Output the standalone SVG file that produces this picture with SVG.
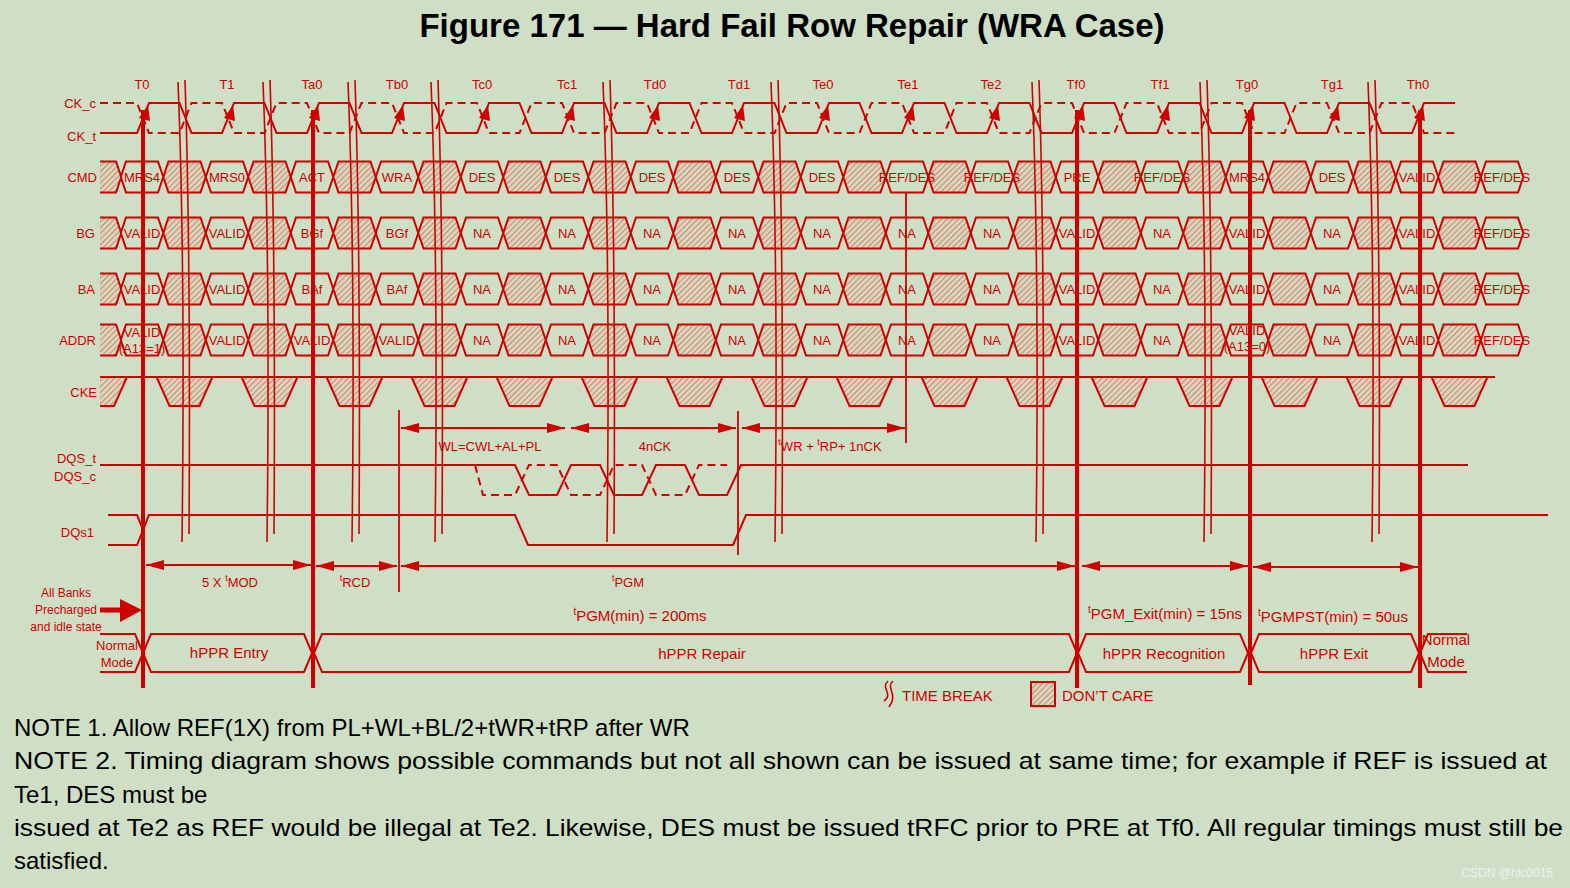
<svg xmlns="http://www.w3.org/2000/svg" xmlns:xlink="http://www.w3.org/1999/xlink" width="1570" height="888" viewBox="0 0 1570 888">
<style>
.r{fill:none;stroke:#d00000;stroke-width:2}
.t{font-family:"Liberation Sans",Arial,sans-serif;font-size:13px;fill:#d00000;text-anchor:middle}
.l{font-family:"Liberation Sans",Arial,sans-serif;font-size:13px;fill:#d00000;text-anchor:end}
.s{font-family:"Liberation Sans",Arial,sans-serif;font-size:15px;fill:#d00000;text-anchor:middle}
.n{font-family:"Liberation Sans",Arial,sans-serif;font-size:24px;fill:#000}
.thick{stroke:#d00000;stroke-width:4}
.thin{stroke:#d00000;stroke-width:1.8}
.tb{fill:none;stroke:#d00000;stroke-width:1.6}
.dash{fill:none;stroke:#d00000;stroke-width:2;stroke-dasharray:8,5}
.arr{stroke:#d00000;stroke-width:2;marker-start:url(#ma);marker-end:url(#ma)}
</style>
<defs>
<pattern id="hatch" width="4" height="4" patternUnits="userSpaceOnUse" patternTransform="rotate(45)">
<rect width="4" height="4" fill="#d6d8bd"/><line x1="0" y1="0" x2="0" y2="4" stroke="#d00000" stroke-width="0.8"/>
</pattern>
<marker id="ma" viewBox="0 0 18 10" refX="18" refY="5" markerWidth="18" markerHeight="10" markerUnits="userSpaceOnUse" orient="auto-start-reverse"><path d="M0,0 L18,5 L0,10 Z" fill="#d00000"/></marker>
<path id="hv" d="M-21.25,0 L-16,-15.5 L16,-15.5 L21.25,0 L16,15.5 L-16,15.5 Z" fill="none" stroke="#d00000" stroke-width="2"/>
<path id="hh" d="M-21.25,0 L-16,-15.5 L16,-15.5 L21.25,0 L16,15.5 L-16,15.5 Z" fill="url(#hatch)" stroke="#d00000" stroke-width="2"/>
<path id="hl" d="M0,-15.5 L16,-15.5 L21.25,0 L16,15.5 L0,15.5" fill="url(#hatch)" stroke="#d00000" stroke-width="2"/>
<path id="ah" d="M0,0 L-9,13 L2,16 Z" fill="#d00000"/>
<g id="tbk"><path class="tb" d="M0,0 C6,150 6,300 4,460"/><path class="tb" d="M7,-2 C12,150 12,300 11,452"/></g>
<path id="ck" d="M-28,0 L28,0 L15,29 L-15,29 Z" fill="url(#hatch)" stroke="#d00000" stroke-width="2"/>
<g id="row">
<use href="#hl" x="100"/>
<use href="#hv" x="142"/><use href="#hh" x="184.5"/><use href="#hv" x="227"/><use href="#hh" x="269.5"/>
<use href="#hv" x="312"/><use href="#hh" x="354.5"/><use href="#hv" x="397"/><use href="#hh" x="439.5"/>
<use href="#hv" x="482"/><use href="#hh" x="524.5"/><use href="#hv" x="567"/><use href="#hh" x="609.5"/>
<use href="#hv" x="652"/><use href="#hh" x="694.5"/><use href="#hv" x="737"/><use href="#hh" x="779.5"/>
<use href="#hv" x="822"/><use href="#hh" x="864.5"/><use href="#hv" x="907"/><use href="#hh" x="949.5"/>
<use href="#hv" x="992"/><use href="#hh" x="1034.5"/><use href="#hv" x="1077"/><use href="#hh" x="1119.5"/>
<use href="#hv" x="1162"/><use href="#hh" x="1204.5"/><use href="#hv" x="1247"/><use href="#hh" x="1289.5"/>
<use href="#hv" x="1332"/><use href="#hh" x="1374.5"/><use href="#hv" x="1417"/><use href="#hh" x="1459.5"/>
<use href="#hv" x="1502"/>
</g>
</defs>
<rect width="1570" height="888" fill="#cfdfc5"/>
<text x="792" y="37" font-family="'Liberation Sans',Arial,sans-serif" font-size="33" font-weight="bold" text-anchor="middle" fill="#000">Figure 171 — Hard Fail Row Repair (WRA Case)</text>

<g id="labels">
<text class="l" x="96" y="108">CK_c</text><text class="l" x="96" y="141">CK_t</text>
<text class="l" x="97" y="182">CMD</text><text class="l" x="95" y="238">BG</text>
<text class="l" x="95" y="294">BA</text><text class="l" x="96" y="345">ADDR</text>
<text class="l" x="97" y="397">CKE</text><text class="l" x="96" y="463">DQS_t</text>
<text class="l" x="96" y="481">DQS_c</text><text class="l" x="94" y="537">DQs1</text>
<g class="t"><text x="142" y="89">T0</text><text x="227" y="89">T1</text><text x="312" y="89">Ta0</text><text x="397" y="89">Tb0</text><text x="482" y="89">Tc0</text><text x="567" y="89">Tc1</text><text x="655" y="89">Td0</text><text x="739" y="89">Td1</text><text x="823" y="89">Te0</text><text x="908" y="89">Te1</text><text x="991" y="89">Te2</text><text x="1076" y="89">Tf0</text><text x="1160" y="89">Tf1</text><text x="1247" y="89">Tg0</text><text x="1332" y="89">Tg1</text><text x="1418" y="89">Th0</text></g>
</g>

<g id="clock">
<path class="r" d="M100,133 H137
l12,-30 h30.5 l12,30 h30.5
l12,-30 h30.5 l12,30 h30.5
l12,-30 h30.5 l12,30 h30.5
l12,-30 h30.5 l12,30 h30.5
l12,-30 h30.5 l12,30 h30.5
l12,-30 h30.5 l12,30 h30.5
l12,-30 h30.5 l12,30 h30.5
l12,-30 h30.5 l12,30 h30.5
l12,-30 h30.5 l12,30 h30.5
l12,-30 h30.5 l12,30 h30.5
l12,-30 h30.5 l12,30 h30.5
l12,-30 h30.5 l12,30 h30.5
l12,-30 h30.5 l12,30 h30.5
l12,-30 h30.5 l12,30 h30.5
l12,-30 h30.5 l12,30 h30.5
l12,-30 H1455"/>
<path class="dash" d="M100,103 H137
l12,30 h30.5 l12,-30 h30.5
l12,30 h30.5 l12,-30 h30.5
l12,30 h30.5 l12,-30 h30.5
l12,30 h30.5 l12,-30 h30.5
l12,30 h30.5 l12,-30 h30.5
l12,30 h30.5 l12,-30 h30.5
l12,30 h30.5 l12,-30 h30.5
l12,30 h30.5 l12,-30 h30.5
l12,30 h30.5 l12,-30 h30.5
l12,30 h30.5 l12,-30 h30.5
l12,30 h30.5 l12,-30 h30.5
l12,30 h30.5 l12,-30 h30.5
l12,30 h30.5 l12,-30 h30.5
l12,30 h30.5 l12,-30 h30.5
l12,30 h30.5 l12,-30 h30.5
l12,30 H1455"/>
<use href="#ah" x="148" y="105"/><use href="#ah" x="233" y="105"/><use href="#ah" x="318" y="105"/><use href="#ah" x="403" y="105"/><use href="#ah" x="488" y="105"/><use href="#ah" x="573" y="105"/><use href="#ah" x="658" y="105"/><use href="#ah" x="743" y="105"/><use href="#ah" x="828" y="105"/><use href="#ah" x="913" y="105"/><use href="#ah" x="998" y="105"/><use href="#ah" x="1083" y="105"/><use href="#ah" x="1168" y="105"/><use href="#ah" x="1253" y="105"/><use href="#ah" x="1338" y="105"/><use href="#ah" x="1423" y="105"/>
</g>

<g id="buses">
<use href="#row" y="177"/><use href="#row" y="233"/><use href="#row" y="289"/><use href="#row" y="340"/>
<g class="t">
<text x="142" y="182">MRS4</text><text x="227" y="182">MRS0</text><text x="312" y="182">ACT</text><text x="397" y="182">WRA</text><text x="482" y="182">DES</text><text x="567" y="182">DES</text><text x="652" y="182">DES</text><text x="737" y="182">DES</text><text x="822" y="182">DES</text><text x="907" y="182">REF/DES</text><text x="992" y="182">REF/DES</text><text x="1077" y="182">PRE</text><text x="1162" y="182">REF/DES</text><text x="1247" y="182">MRS4</text><text x="1332" y="182">DES</text><text x="1417" y="182">VALID</text><text x="1502" y="182">REF/DES</text>
<text x="142" y="238">VALID</text><text x="227" y="238">VALID</text><text x="312" y="238">BGf</text><text x="397" y="238">BGf</text><text x="482" y="238">NA</text><text x="567" y="238">NA</text><text x="652" y="238">NA</text><text x="737" y="238">NA</text><text x="822" y="238">NA</text><text x="907" y="238">NA</text><text x="992" y="238">NA</text><text x="1077" y="238">VALID</text><text x="1162" y="238">NA</text><text x="1247" y="238">VALID</text><text x="1332" y="238">NA</text><text x="1417" y="238">VALID</text><text x="1502" y="238">REF/DES</text>
<text x="142" y="294">VALID</text><text x="227" y="294">VALID</text><text x="312" y="294">BAf</text><text x="397" y="294">BAf</text><text x="482" y="294">NA</text><text x="567" y="294">NA</text><text x="652" y="294">NA</text><text x="737" y="294">NA</text><text x="822" y="294">NA</text><text x="907" y="294">NA</text><text x="992" y="294">NA</text><text x="1077" y="294">VALID</text><text x="1162" y="294">NA</text><text x="1247" y="294">VALID</text><text x="1332" y="294">NA</text><text x="1417" y="294">VALID</text><text x="1502" y="294">REF/DES</text>
<text x="142" y="337">VALID</text><text x="142" y="353">(A13=1)</text><text x="227" y="345">VALID</text><text x="312" y="345">VALID</text><text x="397" y="345">VALID</text><text x="482" y="345">NA</text><text x="567" y="345">NA</text><text x="652" y="345">NA</text><text x="737" y="345">NA</text><text x="822" y="345">NA</text><text x="907" y="345">NA</text><text x="992" y="345">NA</text><text x="1077" y="345">VALID</text><text x="1162" y="345">NA</text><text x="1247" y="335">VALID</text><text x="1247" y="351">(A13=0)</text><text x="1332" y="345">NA</text><text x="1417" y="345">VALID</text><text x="1502" y="345">REF/DES</text>
</g>
</g>

<g id="cke">
<line class="r" x1="100" y1="377" x2="1495" y2="377"/>
<path d="M100,377 H127 L114,406 H100" fill="url(#hatch)" stroke="#d00000" stroke-width="2"/>
<use href="#ck" x="184.5" y="377"/><use href="#ck" x="269.5" y="377"/><use href="#ck" x="354.5" y="377"/><use href="#ck" x="439.5" y="377"/><use href="#ck" x="524.5" y="377"/><use href="#ck" x="609.5" y="377"/><use href="#ck" x="694.5" y="377"/><use href="#ck" x="779.5" y="377"/><use href="#ck" x="864.5" y="377"/><use href="#ck" x="949.5" y="377"/><use href="#ck" x="1034.5" y="377"/><use href="#ck" x="1119.5" y="377"/><use href="#ck" x="1204.5" y="377"/><use href="#ck" x="1289.5" y="377"/><use href="#ck" x="1374.5" y="377"/><use href="#ck" x="1459.5" y="377"/>
</g>

<g id="dq">
<path class="r" d="M100,465 H515 L529,495 H557 L571,465 H600 L614,495 H642 L656,465 H685 L699,495 H727 L741,465 H1468"/>
<path class="dash" d="M475,465 L483,495 H515 L529,465 H557 L571,495 H600 L614,465 H642 L656,495 H685 L699,465 H727"/>
<path class="r" d="M108,515 H137 L143,530 L137,545 H108 M143,530 L149,515 H515 L528,545 H733 L746,515 H1548"/>
</g>

<g id="connectors">
<line class="thick" x1="143" y1="110" x2="143" y2="688"/>
<line class="thick" x1="313" y1="110" x2="313" y2="688"/>
<line class="thick" x1="1077" y1="110" x2="1077" y2="688"/>
<line class="thick" x1="1250" y1="110" x2="1250" y2="685"/>
<line class="thick" x1="1420" y1="110" x2="1420" y2="688"/>
<line class="thin" x1="399" y1="410" x2="399" y2="592"/>
<line class="thin" x1="738" y1="411" x2="738" y2="555"/>
<line class="thin" x1="906" y1="193" x2="906" y2="443"/>
<use href="#tbk" x="178" y="82"/><use href="#tbk" x="263" y="82"/><use href="#tbk" x="348" y="82"/><use href="#tbk" x="431" y="82"/><use href="#tbk" x="603" y="82"/><use href="#tbk" x="771" y="82"/><use href="#tbk" x="1032" y="82"/><use href="#tbk" x="1200" y="82"/><use href="#tbk" x="1368" y="82"/>
<line class="arr" x1="401" y1="428" x2="565" y2="428"/>
<line class="arr" x1="571" y1="428" x2="736" y2="428"/>
<line class="arr" x1="742" y1="428" x2="905" y2="428"/>
<line class="arr" x1="146" y1="565" x2="311" y2="565"/>
<line class="arr" x1="316" y1="566" x2="397" y2="566"/>
<line class="arr" x1="401" y1="566" x2="1075" y2="566"/>
<line class="arr" x1="1082" y1="566" x2="1248" y2="566"/>
<line class="arr" x1="1253" y1="567" x2="1418" y2="567"/>
<line stroke="#d00000" stroke-width="5" x1="100" y1="610" x2="124" y2="610"/>
<path d="M120,599 L142,610 L120,622 Z" fill="#d00000"/>
</g>

<g id="timing-labels" class="t">
<text x="490" y="451">WL=CWL+AL+PL</text>
<text x="655" y="451">4nCK</text>
<text x="830" y="451"><tspan font-size="9" dy="-6">t</tspan><tspan dy="6">WR + </tspan><tspan font-size="9" dy="-6">t</tspan><tspan dy="6">RP+ 1nCK</tspan></text>
<text x="230" y="587">5 X <tspan font-size="9" dy="-6">t</tspan><tspan dy="6">MOD</tspan></text>
<text x="355" y="587"><tspan font-size="9" dy="-6">t</tspan><tspan dy="6">RCD</tspan></text>
<text x="628" y="587"><tspan font-size="9" dy="-6">t</tspan><tspan dy="6">PGM</tspan></text>
<text class="s" x="640" y="621"><tspan font-size="10" dy="-6">t</tspan><tspan dy="6">PGM(min) = 200ms</tspan></text>
<text class="s" x="1165" y="619"><tspan font-size="10" dy="-6">t</tspan><tspan dy="6">PGM_Exit(min) = 15ns</tspan></text>
<text class="s" x="1333" y="622"><tspan font-size="10" dy="-6">t</tspan><tspan dy="6">PGMPST(min) = 50us</tspan></text>
<text x="66" y="597" font-size="12">All Banks</text><text x="66" y="614" font-size="12">Precharged</text><text x="66" y="631" font-size="12">and idle state</text>
</g>

<g id="states">
<path class="r" d="M100,634 H135 L143,653 L135,672 H100"/>
<path class="r" d="M143,653 L151,634 H304 L312,653 L304,672 H151 Z"/>
<path class="r" d="M314,653 L322,634 H1069 L1077,653 L1069,672 H322 Z"/>
<path class="r" d="M1078,653 L1086,634 H1240 L1248,653 L1240,672 H1086 Z"/>
<path class="r" d="M1251,653 L1259,634 H1411 L1419,653 L1411,672 H1259 Z"/>
<path class="r" d="M1420,653 L1428,634 H1467 M1420,653 L1428,672 H1467"/>
<text class="t" x="117" y="650">Normal</text><text class="t" x="117" y="667">Mode</text>
<text class="s" x="229" y="658">hPPR Entry</text>
<text class="s" x="702" y="659">hPPR Repair</text>
<text class="s" x="1164" y="659">hPPR Recognition</text>
<text class="s" x="1334" y="659">hPPR Exit</text>
<text class="s" x="1446" y="645">Normal</text><text class="s" x="1446" y="667">Mode</text>
</g>

<g id="legend">
<path class="tb" d="M888,681 C880,688 894,694 884,701 M893,681 C885,688 899,694 889,707"/>
<text x="902" y="701" font-family="'Liberation Sans',Arial,sans-serif" font-size="15" fill="#d00000">TIME BREAK</text>
<rect x="1031" y="682" width="24" height="24" fill="url(#hatch)" stroke="#d00000" stroke-width="2"/>
<text x="1062" y="701" font-family="'Liberation Sans',Arial,sans-serif" font-size="15" fill="#d00000">DON’T CARE</text>
</g>

<g id="notes">
<text class="n" x="14" y="736">NOTE 1. Allow REF(1X) from PL+WL+BL/2+tWR+tRP after WR</text>
<text class="n" x="14" y="769" textLength="1533" lengthAdjust="spacingAndGlyphs">NOTE 2. Timing diagram shows possible commands but not all shown can be issued at same time; for example if REF is issued at</text>
<text class="n" x="14" y="803">Te1, DES must be</text>
<text class="n" x="14" y="836" textLength="1549" lengthAdjust="spacingAndGlyphs">issued at Te2 as REF would be illegal at Te2. Likewise, DES must be issued tRFC prior to PRE at Tf0. All regular timings must still be</text>
<text class="n" x="14" y="869">satisfied.</text>
<text x="1553" y="877" font-family="'Liberation Sans',Arial,sans-serif" font-size="12" fill="#f0f0f0" text-anchor="end">CSDN @hlc0015</text>
</g>
</svg>
